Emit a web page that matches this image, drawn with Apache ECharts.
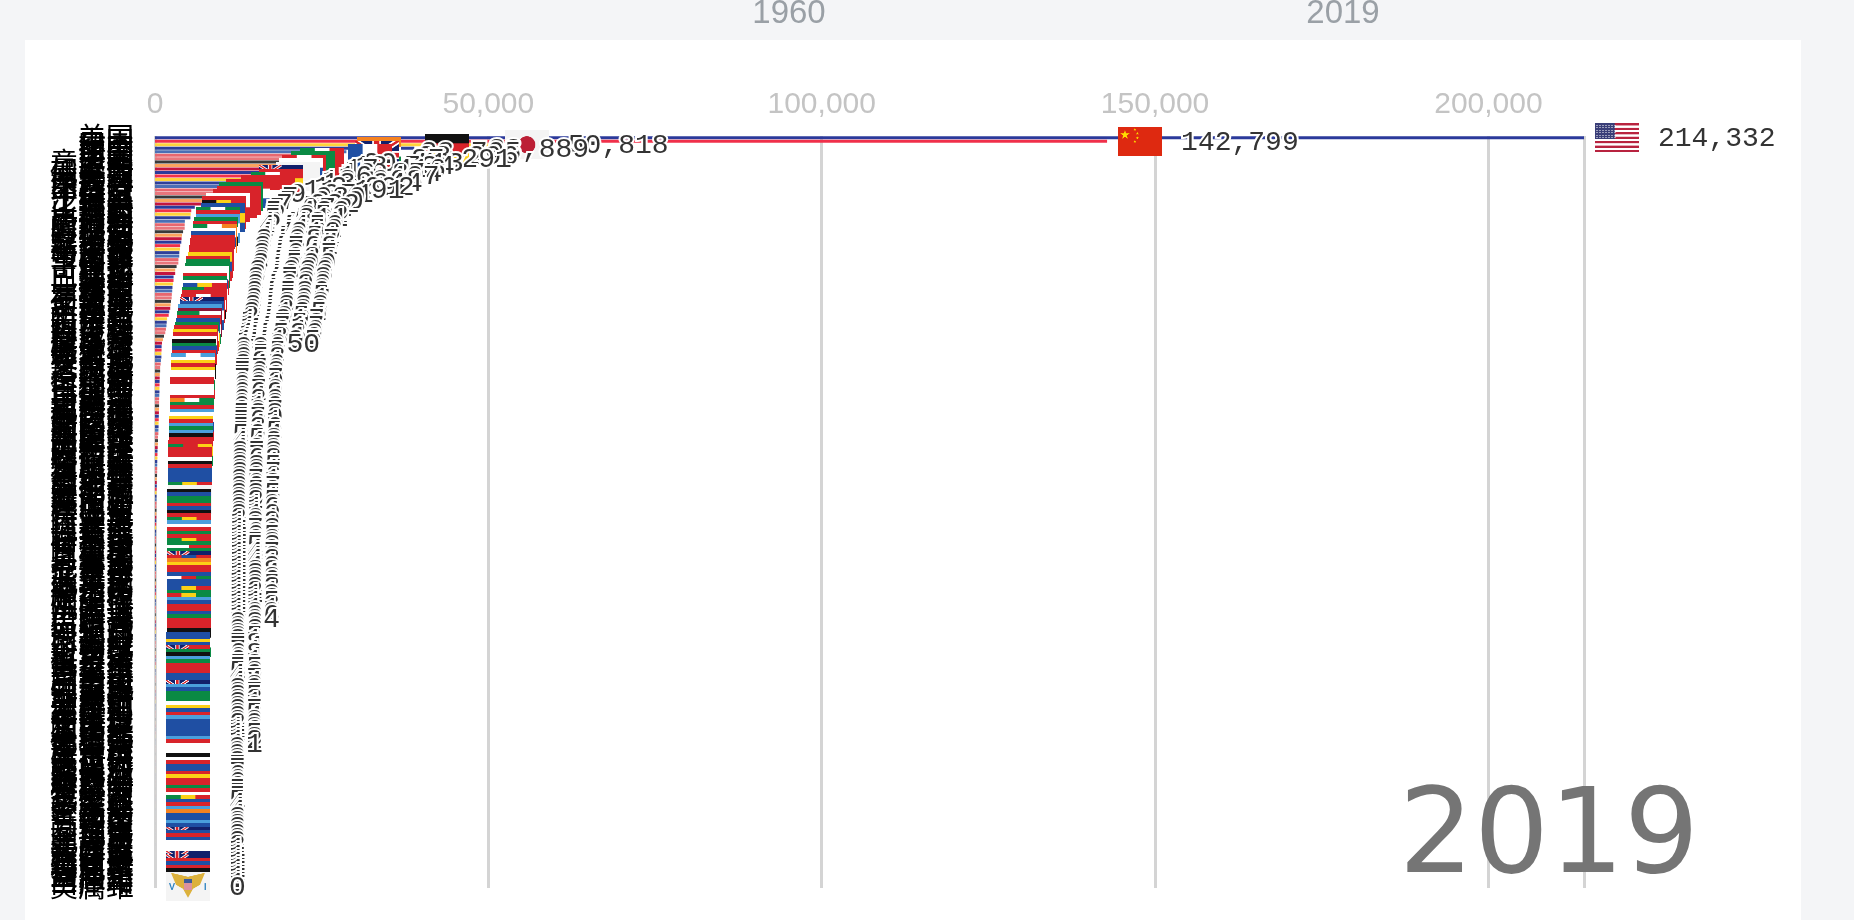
<!DOCTYPE html>
<html>
<head>
<meta charset="utf-8">
<style>html,body{margin:0;padding:0;background:#f4f5f7;overflow:hidden}#c{width:1854px;height:920px}</style>
<script src="https://cdn.jsdelivr.net/npm/echarts@6/dist/echarts.min.js"></script>
</head>
<body>
<div id="c"></div>
<script>
const categories = [
'美国','中国','日本','德国','印度','英国','法国','意大利','巴西','加拿大',
'俄罗斯','韩国','澳大利亚','西班牙','墨西哥','印度尼西亚','荷兰','沙特阿拉伯','土耳其','瑞士',
'波兰','泰国','比利时','瑞典','尼日利亚','奥地利','阿根廷','阿联酋','挪威','爱尔兰',
'以色列','菲律宾','新加坡','马来西亚','中国香港','南非','丹麦','哥伦比亚','埃及','孟加拉国',
'巴基斯坦','智利','芬兰','越南','伊朗','捷克','罗马尼亚','葡萄牙','伊拉克','秘鲁',
'新西兰','希腊','哈萨克斯坦','卡塔尔','阿尔及利亚','匈牙利','乌克兰','科威特','摩洛哥','厄瓜多尔',
'波多黎各','斯洛伐克','肯尼亚','埃塞俄比亚','多米尼加','安哥拉','危地马拉','阿曼','委内瑞拉','卢森堡',
'缅甸','保加利亚','巴拿马','加纳','白俄罗斯','乌拉圭','哥斯达黎加','坦桑尼亚','克罗地亚','科特迪瓦',
'中国澳门','黎巴嫩','乌兹别克斯坦','斯洛文尼亚','立陶宛','塞尔维亚','刚果（金）','土库曼斯坦','阿塞拜疆','约旦',
'玻利维亚','巴拉圭','喀麦隆','突尼斯','拉脱维亚','利比亚','巴林','乌干达','尼泊尔','柬埔寨',
'爱沙尼亚','萨尔瓦多','洪都拉斯','塞内加尔','塞浦路斯','巴布亚新几内亚','冰岛','津巴布韦','赞比亚','特立尼达和多巴哥',
'波黑','阿富汗','老挝','马里','博茨瓦纳','格鲁吉亚','布基纳法索','加蓬','阿尔巴尼亚','贝宁',
'莫桑比克','马耳他','牙买加','毛里求斯','蒙古','尼日尔','文莱','亚美尼亚','北马其顿','纳米比亚',
'马达加斯加','摩尔多瓦','尼加拉瓜','乍得','刚果（布）','几内亚','卢旺达','海地','塔吉克斯坦','吉尔吉斯斯坦',
'巴哈马','赤道几内亚','也门','叙利亚','苏丹','南苏丹','朝鲜','古巴','斯里兰卡','科索沃',
'百慕大','毛里塔尼亚','马拉维','索马里','多哥','摩纳哥','黑山','马尔代夫','列支敦士登','巴巴多斯',
'开曼群岛','斐济','斯威士兰','苏里南','圭亚那','塞拉利昂','布隆迪','不丹','安道尔','利比里亚',
'阿鲁巴','莱索托','中非','伯利兹','佛得角','库拉索','圣卢西亚','东帝汶','吉布提','厄立特里亚',
'圣马力诺','安提瓜和巴布达','几内亚比绍','冈比亚','塞舌尔','所罗门群岛','格林纳达','科摩罗','圣基茨和尼维斯','瓦努阿图',
'圣文森特','萨摩亚','多米尼克','圣多美和普林西比','密克罗尼西亚','汤加','帕劳','马绍尔群岛','基里巴斯','瑙鲁',
'图瓦卢','关岛','北马里亚纳群岛','美属萨摩亚','法属波利尼西亚','新喀里多尼亚','法罗群岛','格陵兰','直布罗陀','英属维尔京群岛',
'特克斯和凯科斯群岛','荷属圣马丁','法属圣马丁','马恩岛','西岸和加沙','美属维尔京群岛'
];
const values = [
214332,142799,50818,38889,28705,28296,27291,20113,18734,17416,
16874,16467,13968,13944,12692,11191,9071,7930,7610,7032,
5972,5436,5352,5311,4481,4456,4452,4210,4051,3987,
3944,3768,3744,3647,3635,3514,3500,3239,3030,3026,
2788,2782,2690,2619,2580,2525,2501,2398,2338,2283,
2135,2054,1817,1758,1717,1640,1539,1346,1195,1050,
990,985,959,958,891,846,770,768,720,707,
690,681,670,669,644,620,612,610,607,588,
570,561,541,536,515,504,452,448,445,409,
378,372,368,341,335,331,327,306,271,268,
267,252,235,231,225,219,216,214,210,201,
189,181,173,169,165,162,158,153,149,147,
146,143,141,140,138,134,133,126,125,123,
121,119,118,115,113,111,109,106,104,98,
96,92,88,85,81,78,74,71,68,64,
61,58,55,52,49,47,44,42,39,37,
35,33,31,29,27,25,24,22,20,18,
16,15,13,12,11,9,9,9,8,8,
7,7,7,6,6,6,6,5,5,5,
5,4,4,4,4,3,3,3,3,2,
2,2,2,2,1,1,1,1,1,1,
1,1,1,1,1,0
];
const flagCodes = [
'us','cn','jp','kry','owg','uk','|bwr','|gwr','g','|rwr',
'wbr','l','ukb','ryr','|gwr','rw','rwb','g','r','r',
'wr','rwnwr','|kyr','byb','|gwg','rwr','sws','gwk','r','|gwo',
'wbw','br','rw','rwr','r','rgb','r','ybr','rwk','g',
'g','wr','wbw','r','gwr','wr','|byr','|gr','rwk','|rwr',
'ukb','bwb','s','m','|gw','rwg','by','gwr','r','ybr',
'rwb','wbr','krg','gyr','brb','rk','|sws','wrg','ybr','rws',
'ygr','wgr','wr','ryg','rg','wbw','wbr','wgr','rwb','|owg',
'g','rwr','sw','wbr','ygr','rbw','s','g','srg','krg',
'ryg','rwb','|gry','r','rwr','rkg','wr','ky','r','brb',
'bkw','bwb','bwb','|gyr','l','kr','brb','gyr','g','rk',
'by','krg','rbr','|gyr','skw','wr','rg','gyb','r','|gyr',
'gyr','|wr','gyk','ukb','|rbr','owg','yrk','rbo','r','brg',
'|wrg','bwr','bwb','|byr','gyr','|ryg','syg','br','rwg','r',
'bys','gwr','rwk','rwk','rwk','kwg','brb','bwb','ybr','b',
'ukr','gyg','krg','s','gyg','rw','r','r','br','byb',
'ukb','s','brb','gwr','gwy','gws','wrg','yo','brb','rwb',
's','bwg','brg','brb','bwr','by','s','r','wg','wbr',
'wb','krw','wr','rbg','brg','bg','ryg','yw','ryg','rkg',
'gy','r','wr','|gyr','b','r','s','ob','b','bwb',
's','b','ukb','b','rwb','bwr','wbr','wr','wr','ukb',
'ukb','rwb','bwr','r','kwg','vi'
];

const TOP_LABELS = ['1960','2019'];
const YEAR = '2019';
const barPalette = ['#2b3a9b','#f0304a','#ffd23c','#2f3f98','#4a6fb5','#e8676f','#e8767c','#3a3a3a','#fba45e','#c4153f'];
const flagPalette = {r:'#d8232a',w:'#ffffff',b:'#1f4fa3',n:'#12206b',g:'#0a8a44',y:'#fcd116',k:'#111111',o:'#f58220',s:'#4a9fdc',m:'#8a1538',l:'#f4f4f4'};

function unionJack(c,w,h){
  c.fillStyle='#12206b';c.fillRect(0,0,w,h);
  c.strokeStyle='#fff';c.lineWidth=h/5;c.beginPath();c.moveTo(0,0);c.lineTo(w,h);c.moveTo(w,0);c.lineTo(0,h);c.stroke();
  c.strokeStyle='#d8232a';c.lineWidth=h/12;c.stroke();
  c.fillStyle='#fff';c.fillRect(0,h*.36,w,h*.28);c.fillRect(w*.4,0,w*.2,h);
  c.fillStyle='#d8232a';c.fillRect(0,h*.42,w,h*.16);c.fillRect(w*.44,0,w*.12,h);
}
function makeFlag(code){
  const W=88,H=58,cv=document.createElement('canvas');cv.width=W;cv.height=H;
  const c=cv.getContext('2d');
  if(code==='us'){
    for(let i=0;i<13;i++){c.fillStyle=i%2?'#fff':'#b8233f';c.fillRect(0,i*H/13,W,H/13+1);}
    c.fillStyle='#3a3e78';c.fillRect(0,0,W*.45,H*7/13);
    c.fillStyle='#fff';for(let y=3;y<H*7/13;y+=5)for(let x=3;x<W*.45;x+=6)c.fillRect(x,y,2,2);
  }else if(code==='cn'){
    c.fillStyle='#de2910';c.fillRect(0,0,W,H);c.fillStyle='#ffde00';
    c.font='24px "DejaVu Sans"';c.textBaseline='middle';c.fillText('★',3,18);
    c.font='8px "DejaVu Sans"';c.fillText('★',30,6);c.fillText('★',35,14);c.fillText('★',35,23);c.fillText('★',30,30);
  }else if(code==='jp'){
    c.fillStyle='#f4f4f4';c.fillRect(0,0,W,H);c.fillStyle='#bc1f35';c.beginPath();c.arc(W/2,H/2,17,0,7);c.fill();
  }else if(code==='uk'){
    unionJack(c,W,H);
  }else if(code==='ukb'||code==='ukr'){
    c.fillStyle=code==='ukb'?'#12206b':'#d8232a';c.fillRect(0,0,W,H);unionJack(c,W*.5,H*.5);
  }else if(code==='vi'){
    c.fillStyle='#f4f4f4';c.fillRect(0,0,W,H);
    c.fillStyle='#dcb13c';c.beginPath();c.moveTo(44,10);c.lineTo(78,2);c.lineTo(68,26);c.lineTo(54,34);c.lineTo(44,52);c.lineTo(34,34);c.lineTo(20,26);c.lineTo(10,2);c.closePath();c.fill();
    c.fillStyle='#3c5a9a';c.fillRect(36,14,16,8);
    c.fillStyle='#fff';c.fillRect(36,22,16,14);
    c.fillStyle='#b8233f';for(let x=37;x<52;x+=4)c.fillRect(x,22,2,14);
    c.fillStyle='#2a80c0';c.font='bold 18px "Liberation Sans"';c.fillText('V',6,36);c.fillText('I',76,36);
  }else{
    const vertical=code[0]==='|',cols=(vertical?code.slice(1):code).split('');
    cols.forEach((k,i)=>{
      c.fillStyle=flagPalette[k];
      if(vertical)c.fillRect(i*W/cols.length,0,W/cols.length+1,H);
      else c.fillRect(0,i*H/cols.length,W,H/cols.length+1);
    });
  }
  return cv;
}

const rich={v:{fontFamily:'"Liberation Mono"',fontSize:28,color:'#333',textBorderColor:'#fff',textBorderWidth:4,padding:[2,0,0,19]}};
flagCodes.forEach((code,i)=>{rich['f'+i]={width:44,height:29,backgroundColor:{image:makeFlag(code)}};});

const fmt=n=>String(n).replace(/\B(?=(\d{3})+$)/g,',');
const chart=echarts.init(document.getElementById('c'),null,{renderer:'canvas'});
chart.setOption({
  animation:false,
  backgroundColor:'#f4f5f7',
  grid:{left:155,top:136,width:1429,height:752,containLabel:false},
  xAxis:{type:'value',position:'top',min:0,max:'dataMax',interval:50000,
    axisLine:{show:false},axisTick:{show:false},
    axisLabel:{show:true,color:'#c4c4c4',fontSize:30,fontFamily:'"Liberation Sans"',margin:16,showMaxLabel:false,formatter:v=>fmt(v)},
    splitLine:{show:true,lineStyle:{color:'#d4d4d4',width:3}}},
  yAxis:{type:'category',inverse:true,data:categories,
    axisLine:{show:false},axisTick:{show:false},splitLine:{show:false},
    axisLabel:{interval:0,color:'#000',fontSize:28,fontFamily:'"Noto Sans CJK SC"',margin:21,hideOverlap:false,formatter:v=>v.slice(0,3)}},
  series:[{type:'bar',data:values,barWidth:3,
    itemStyle:{color:p=>barPalette[p.dataIndex%barPalette.length]},
    label:{show:true,position:'right',distance:11,rich,formatter:p=>`{f${p.dataIndex}|}{v|${fmt(p.value)}}`},
    emphasis:{disabled:true}}],
  graphic:[
    {type:'rect',z:-10,silent:true,shape:{x:25,y:40,width:1776,height:880},style:{fill:'#fff'}},
    {type:'text',z:50,x:789,y:14,style:{text:TOP_LABELS[0],font:'33px "Liberation Sans"',fill:'#9aa0a6',textAlign:'center',textVerticalAlign:'middle'}},
    {type:'text',z:50,x:1343,y:14,style:{text:TOP_LABELS[1],font:'33px "Liberation Sans"',fill:'#9aa0a6',textAlign:'center',textVerticalAlign:'middle'}},
    {type:'text',z:50,x:1549,y:841,style:{text:YEAR,font:'118px "DejaVu Sans"',fill:'#757575',textAlign:'center',textVerticalAlign:'middle'}}
  ]
});
</script>
</body>
</html>
